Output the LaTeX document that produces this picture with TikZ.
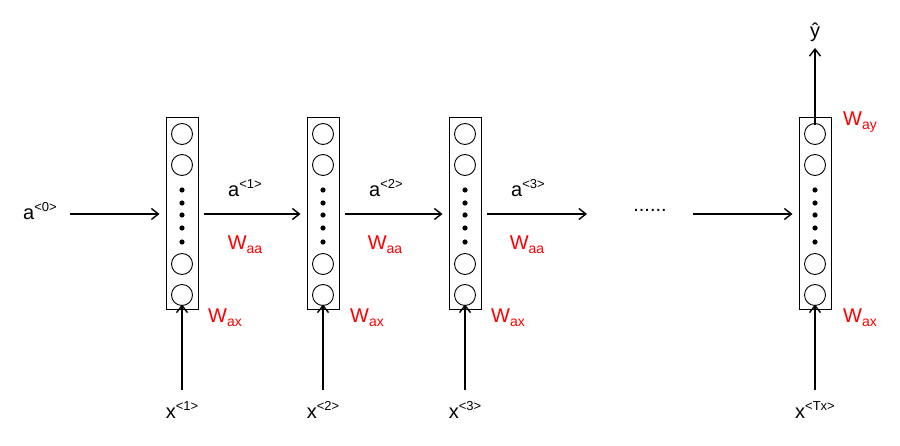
\documentclass[tikz,border=0pt]{standalone}
\usepackage{fontspec}
\setmainfont{Liberation Sans}
\usetikzlibrary{arrows.meta}
\newcommand{\mysup}[1]{\raisebox{8pt}{\fontsize{13}{13}\selectfont <#1>}}
\newcommand{\mysub}[1]{\raisebox{-4pt}{\fontsize{14}{14}\selectfont #1}}
\begin{document}
\begin{tikzpicture}[x=1pt,y=-1pt,
  arr/.style={line width=1.4pt,-{Straight Barb[length=7pt,width=11pt,line width=1.4pt]}},
  cellbox/.style={draw,line width=1pt,minimum width=32pt,minimum height=192pt,inner sep=0pt},
  neuron/.style={draw,circle,line width=0.9pt,minimum size=21pt,inner sep=0pt},
  lbl/.style={font=\fontsize{20}{22}\selectfont},
  wl/.style={text=red,font=\fontsize{20}{22}\selectfont}]
\useasboundingbox (0,0) rectangle (900,446);
\foreach \n/\x in {1/182,2/323,3/465,4/815}{
  \node[cellbox] (c\n) at (\x,214) {};
  \foreach \y in {134,165,264,295} \node[neuron] at (\x,\y) {};
  \foreach \y in {190,203,215,228,242} \fill (\x,\y) circle (2.6pt);
}
\node[lbl] (a0) at (40,211) {a\mysup{0}};
\coordinate (s0) at (70,214);
\draw[arr] (s0) -- ([xshift=-6pt]c1.west);
\draw[arr] ([xshift=5pt]c1.east) -- ([xshift=-6pt]c2.west);
\draw[arr] ([xshift=5pt]c2.east) -- ([xshift=-6pt]c3.west);
\coordinate (e3) at (587,214);
\draw[arr] ([xshift=5pt]c3.east) -- (e3);
\node[lbl] (dots) at (650,210) {......};
\coordinate (s4) at (693,214);
\draw[arr] (s4) -- ([xshift=-6pt]c4.west);
\node[lbl] (a1) at (245,188) {a\mysup{1}};
\node[lbl] (a2) at (386,188) {a\mysup{2}};
\node[lbl] (a3) at (528,188) {a\mysup{3}};
\foreach \n/\x in {1/245,2/385,3/527} \node[wl] (waa\n) at (\x,245) {W\mysub{aa}};
\foreach \n/\x in {1/225,2/367,3/508,4/860} \node[wl] (wax\n) at (\x,318) {W\mysub{ax}};
\node[wl] (way) at (860,122) {W\mysub{ay}};
\foreach \n/\x/\s in {1/182/1,2/323/2,3/465/3,4/815/Tx}{
  \node[lbl] (x\n) at (\x,410) {x\mysup{\s}};
  \coordinate (b\n) at (\x,390);
  \draw[arr] (b\n) -- ([yshift=6pt]c\n.south);
}
\node[lbl] (yh) at (815,32) {ŷ};
\coordinate (t4) at (815,48);
\draw[arr] ([yshift=-8pt]c4.north) -- (t4);
\end{tikzpicture}
\end{document}
